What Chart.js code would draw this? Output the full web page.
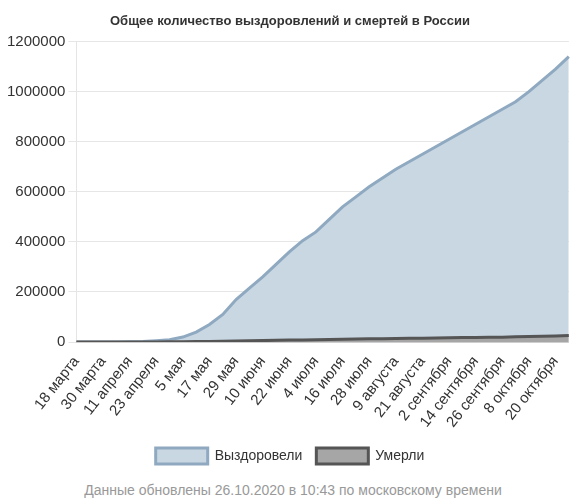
<!DOCTYPE html>
<html><head><meta charset="utf-8">
<script src="https://cdn.jsdelivr.net/npm/chart.js@4"></script>
<style>
body{margin:0;background:#fff;font-family:Arial,"Liberation Sans",sans-serif}
#wrap{width:586px;height:474px;position:relative}
#foot{text-align:center;color:#999;font-size:14px;margin-top:8px}
</style></head><body>
<div id="wrap"><canvas id="c"></canvas></div>
<div id="foot">Данные обновлены 26.10.2020 в 10:43 по московскому времени</div>
<script>
// 6-day steps from 18 March to 26 October 2020
const dates = ['18 марта','24 марта','30 марта','5 апреля','11 апреля','17 апреля','23 апреля','29 апреля',
  '5 мая','11 мая','17 мая','23 мая','29 мая','4 июня','10 июня','16 июня','22 июня','28 июня',
  '4 июля','10 июля','16 июля','22 июля','28 июля','3 августа','9 августа','15 августа','21 августа','27 августа',
  '2 сентября','8 сентября','14 сентября','20 сентября','26 сентября','2 октября','8 октября','14 октября','20 октября','26 октября'];
const recovered = [0,20,100,350,1000,2000,5000,9000,20000,40000,70000,110000,170000,215000,260000,310000,360000,405000,
  440000,490000,540000,580000,620000,655000,690000,720000,750000,780000,810000,840000,870000,900000,930000,960000,1000000,1045000,1090000,1140000];
const deaths = [0,1,9,40,100,170,400,800,1200,1900,2600,3200,4100,5000,5900,6900,7700,8400,9300,10200,11000,11900,12700,
  13400,14200,14900,15600,16300,17000,17700,18300,18900,19600,20700,21800,23200,24600,26000];

new Chart(document.getElementById('c'), {
  type: 'line',
  data: {
    labels: dates,
    datasets: [
      { label: 'Умерли', data: deaths, fill: true, backgroundColor: '#a6a6a6', borderColor: '#555', borderWidth: 3, pointRadius: 0, order: 0 },
      { label: 'Выздоровели', data: recovered, fill: true, backgroundColor: '#c9d7e3', borderColor: '#8fa9c0', borderWidth: 3, pointRadius: 0, order: 1 }
    ]
  },
  options: {
    responsive: true, maintainAspectRatio: false, animation: false,
    layout: { padding: { right: 10, left: 4, top: 6 } },
    plugins: {
      title: { display: true, text: 'Общее количество выздоровлений и смертей в России', color: '#333', font: { size: 13, weight: 'bold' }, padding: { top: 8, bottom: 12 } },
      legend: { position: 'bottom', reverse: true, labels: { boxWidth: 52, boxHeight: 16, color: '#333', font: { size: 14 }, padding: 14 } },
      tooltip: { enabled: false }
    },
    scales: {
      x: {
        grid: { display: false },
        ticks: { autoSkip: false, maxRotation: 52, minRotation: 52, color: '#333', font: { size: 15 },
          callback: function (v, i) { return i % 2 === 0 ? this.getLabelForValue(v) : ''; } }
      },
      y: {
        min: 0, max: 1200000,
        ticks: { stepSize: 200000, color: '#333', font: { size: 15 }, callback: v => String(v) },
        grid: { color: '#e6e6e6' }
      }
    }
  }
});
</script>
</body></html>
